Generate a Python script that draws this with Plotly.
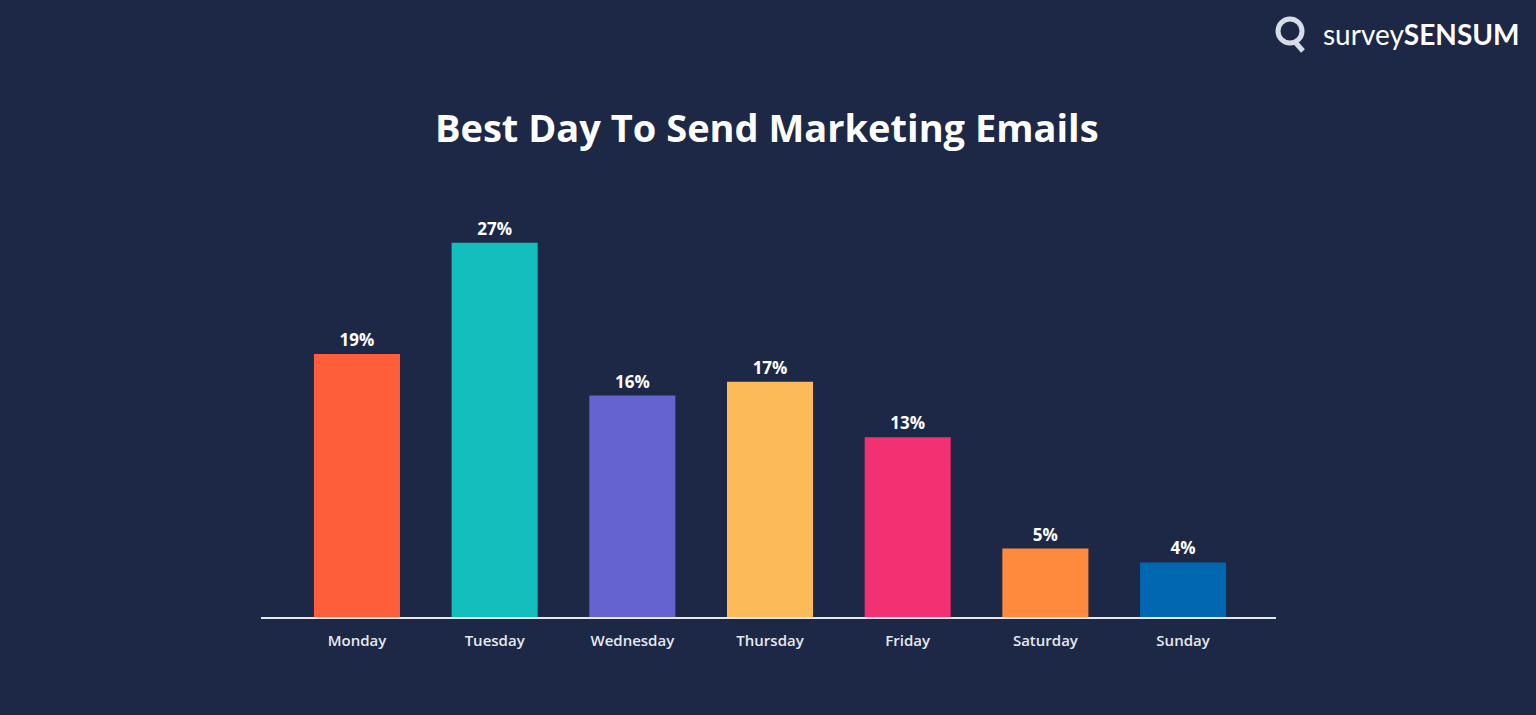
import plotly.graph_objects as go

days = ["Monday", "Tuesday", "Wednesday", "Thursday", "Friday", "Saturday", "Sunday"]
shares = [19, 27, 16, 17, 13, 5, 4]
labels = [f"{v}%" for v in shares]
colors = ["#FF5E3A", "#13BFBD", "#6563CF", "#FDBA58", "#F33172", "#FF8A3D", "#0067B0"]

BG = "#1C2846"
PLOT_L, PLOT_R, PLOT_T, PLOT_B = 261, 1276, 201, 618
PW, PH = PLOT_R - PLOT_L, PLOT_B - PLOT_T


def px_x(x):
    return (x - PLOT_L) / PW


def px_y(y):
    return (PLOT_B - y) / PH


fig = go.Figure(go.Bar(
    x=days, y=shares, text=labels, textposition="outside",
    marker=dict(color=colors, line=dict(width=0)),
    width=0.625, cliponaxis=False,
    textfont=dict(family="Open Sans", size=17, color="white", weight="bold"),
))

fig.update_layout(
    width=1536, height=715,
    paper_bgcolor=BG, plot_bgcolor=BG,
    margin=dict(l=PLOT_L, r=1536 - PLOT_R, t=PLOT_T, b=715 - PLOT_B),
    showlegend=False,
    xaxis=dict(range=[-0.697, 6.675], showgrid=False, zeroline=False,
               showline=False, ticks="", ticklabelstandoff=12,
               tickfont=dict(family="Open Sans", size=15, color="#E6E8EE", weight=600)),
    yaxis=dict(range=[0, 30], visible=False, showgrid=False, zeroline=False),
    shapes=[
        dict(type="line", xref="paper", yref="paper", x0=0, x1=1, y0=0, y1=0,
             line=dict(color="#E6E8EE", width=2)),
        dict(type="circle", xref="paper", yref="paper", xsizemode="pixel", ysizemode="pixel",
             xanchor=px_x(1290), yanchor=px_y(31), x0=-12, x1=12, y0=-12, y1=12,
             line=dict(color="#D8DCE6", width=5)),
        dict(type="line", xref="paper", yref="paper",
             x0=px_x(1295), x1=px_x(1303), y0=px_y(42), y1=px_y(51),
             line=dict(color="#D8DCE6", width=5)),
    ],
    annotations=[
        dict(text="<b>Best Day To Send Marketing Emails</b>", xref="paper", yref="paper",
             x=px_x(767), xanchor="center", y=px_y(127), yanchor="middle",
             showarrow=False, font=dict(family="Open Sans", size=38, color="white")),
        dict(text="survey<b>SENSUM</b>", xref="paper", yref="paper",
             x=px_x(1521), xanchor="right", y=px_y(34), yanchor="middle",
             showarrow=False, font=dict(family="Lato", size=28, color="white")),
    ],
)

fig.write_html("out.html")
